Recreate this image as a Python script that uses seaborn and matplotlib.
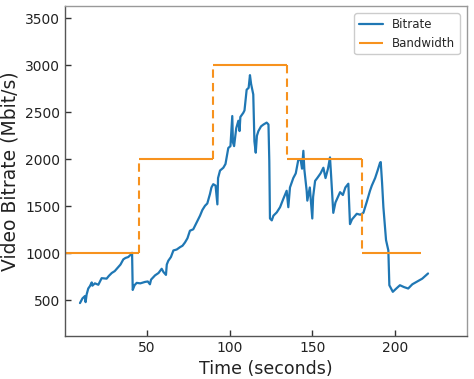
import pandas as pd
import matplotlib
matplotlib.use("Agg")
import matplotlib.pyplot as plt
import seaborn as sns

# -----------------------------------------------
# Data
# -----------------------------------------------
time_s = [9.5, 11.0, 12.5, 12.9, 13.5, 14.5, 15.5, 16.6, 17.0, 18.5, 20.6, 22.6,
          25.6, 27.0, 28.7, 30.5, 32.7, 34.0, 35.7, 37.0, 38.7, 40.8, 41.0, 41.4,
          42.5, 43.8, 46.0, 48.8, 50.5, 51.8, 52.5, 54.9, 57.0, 58.9, 60.0, 61.5,
          62.0, 62.9, 64.5, 66.0, 68.0, 70.0, 71.5, 73.0, 74.5, 76.0, 78.0, 80.1,
          82.1, 83.5, 85.1, 86.5, 88.1, 89.0, 90.1, 91.5, 92.6, 93.0, 94.2, 96.2,
          97.5, 99.2, 100.5, 101.6, 102.0, 102.7, 104.0, 105.3, 106.0, 106.5, 108.3,
          109.0, 110.3, 111.5, 112.3, 113.0, 114.3, 115.0, 115.8, 116.5, 117.4,
          119.0, 120.5, 122.4, 123.5, 124.0, 124.4, 125.5, 126.5, 128.5, 130.5,
          132.5, 134.5, 135.5, 136.5, 138.5, 140.0, 141.6, 143.0, 143.8, 144.6,
          145.2, 146.6, 147.0, 148.5, 150.0, 150.5, 151.7, 153.0, 155.0, 156.7,
          158.0, 159.5, 160.7, 161.2, 162.7, 164.0, 166.8, 168.5, 170.0, 171.8,
          172.8, 174.0, 176.9, 179.0, 180.9, 183.0, 184.9, 186.0, 188.0, 189.5,
          191.0, 191.4, 192.2, 193.0, 194.6, 196.0, 196.6, 198.7, 200.5, 203.0,
          205.5, 208.0, 210.5, 213.0, 216.5, 220.0]
bitrate = [470, 520, 545, 480, 560, 625, 650, 690, 655, 680, 665, 735,
           730, 760, 790, 810, 855, 880, 935, 950, 960, 995, 1005, 610,
           660, 685, 680, 695, 700, 670, 720, 765, 790, 835, 800, 770,
           880, 920, 960, 1030, 1040, 1065, 1080, 1115, 1160, 1240, 1255, 1330,
           1400, 1460, 1505, 1530, 1630, 1700, 1735, 1720, 1520, 1800, 1880, 1910,
           1950, 2120, 2140, 2460, 2180, 2140, 2330, 2410, 2300, 2450, 2495,
           2520, 2740, 2760, 2895, 2800, 2690, 2190, 2070, 2250, 2300,
           2350, 2370, 2390, 2370, 1980, 1370, 1350, 1400, 1435, 1490,
           1580, 1665, 1490, 1700, 1800, 1850, 2000, 1990, 1900, 2090,
           1890, 1665, 1560, 1700, 1370, 1600, 1770, 1800, 1850, 1910,
           1800, 1900, 2020, 1880, 1430, 1540, 1650, 1620, 1700, 1740,
           1310, 1360, 1420, 1410, 1430, 1550, 1665, 1720, 1800, 1880,
           1965, 1970, 1750, 1490, 1140, 1030, 660, 590, 620, 660,
           640, 625, 670, 695, 730, 785]

# bandwidth schedule: level changes every 45 s
bw_edges = [0, 45, 90, 135, 180, 216]
bw_levels = [1000, 2000, 3000, 2000, 1000]

df = pd.DataFrame({"Time": time_s, "Bitrate": bitrate})

# -----------------------------------------------
# Plot
# -----------------------------------------------
sns.set_style("ticks")
plt.rcParams["font.family"] = ["DejaVu Sans"]

fig = plt.figure(figsize=(4.74, 3.79), dpi=100)
ax = fig.add_axes([0.137, 0.114, 0.848, 0.870])

blue = "#1f77b4"
orange = "#f7921e"

sns.lineplot(data=df, x="Time", y="Bitrate", ax=ax, color=blue, linewidth=1.6,
             estimator=None, sort=False, label="Bitrate")

# horizontal bandwidth levels (solid) and transitions (dashed)
ax.hlines(bw_levels, bw_edges[:-1], bw_edges[1:], colors=orange, linewidth=1.5,
          label="Bandwidth")
ax.vlines(bw_edges[1:-1], bw_levels[:-1], bw_levels[1:], colors=orange,
          linewidth=1.5, linestyles=(0, (4, 2.5)))

ax.set_xlim(0.4, 243.5)
ax.set_ylim(122, 3630)
ax.set_xticks([50, 100, 150, 200])
ax.set_yticks([500, 1000, 1500, 2000, 2500, 3000, 3500])
ax.tick_params(direction="in", length=4, width=1, labelsize=10, colors="#333333",
               labelcolor="#222222")

ax.set_xlabel("Time (seconds)", fontsize=12.5, color="#222222")
ax.set_ylabel("Video Bitrate (Mbit/s)", fontsize=13.5, color="#222222")

for side in ["left", "bottom"]:
    ax.spines[side].set_color("#555555")
for side in ["top", "right"]:
    ax.spines[side].set_color("#999999")
for s in ax.spines.values():
    s.set_linewidth(1.0)

ax.legend(loc="upper right", fontsize=8.5, frameon=True, fancybox=True,
          edgecolor="#cccccc", framealpha=1.0, handlelength=2.0,
          borderaxespad=0.6)

fig.savefig("out.png", dpi=100)
